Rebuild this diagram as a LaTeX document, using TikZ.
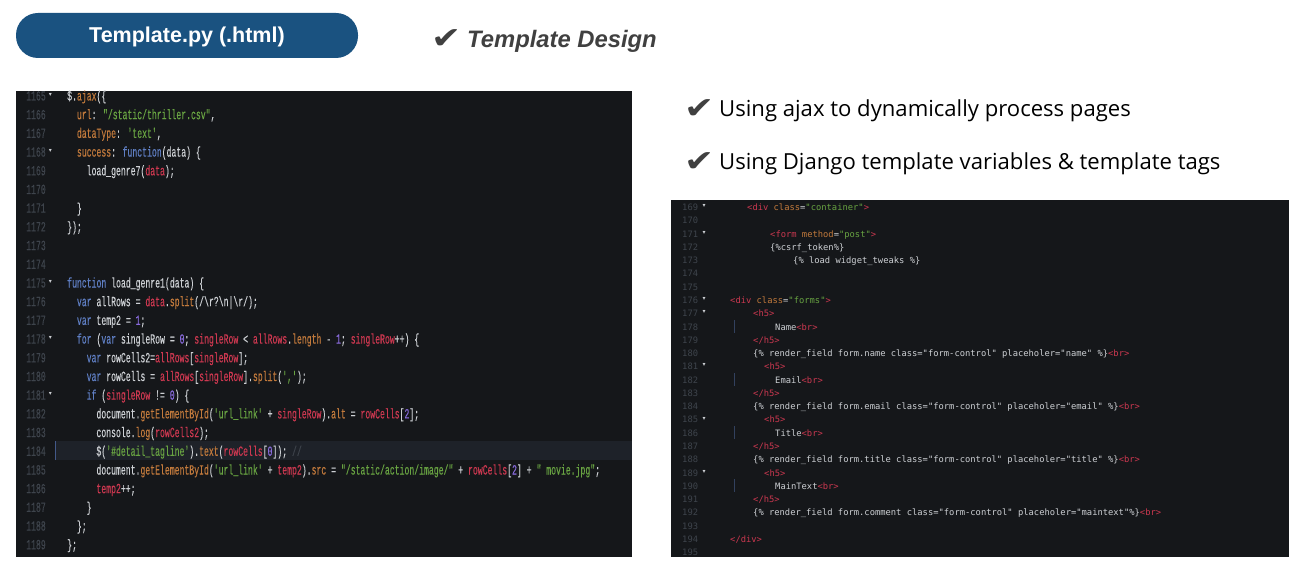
\documentclass[tikz,border=0pt]{standalone}
\usepackage{fontspec}
\setmainfont{Liberation Sans}
\newfontfamily\leftcode[FakeStretch=0.582,FakeBold=0.2,Ligatures=ResetAll]{Liberation Mono}
\newfontfamily\rightcode[Ligatures=ResetAll]{DejaVu Sans Mono}
\newfontfamily\symfont{DejaVu Sans}
\newfontfamily\bulletfont{Open Sans}
\definecolor{panelbg}{HTML}{15171A}
\definecolor{linebg}{HTML}{1E2229}
\definecolor{numgray}{HTML}{3E444C}
\definecolor{codetext}{HTML}{CDD0D4}
\definecolor{kwblue}{HTML}{5F7FC4}
\definecolor{propor}{HTML}{C27A3C}
\definecolor{strgreen}{HTML}{68A342}
\definecolor{varred}{HTML}{CC3850}
\definecolor{numpurple}{HTML}{8A6CDE}
\definecolor{pillblue}{HTML}{1A5280}
\definecolor{markgray}{HTML}{404040}
\newcommand{\kw}[1]{\textcolor{kwblue}{#1}}
\newcommand{\pr}[1]{\textcolor{propor}{#1}}
\newcommand{\st}[1]{\textcolor{strgreen}{#1}}
\newcommand{\vr}[1]{\textcolor{varred}{#1}}
\newcommand{\nm}[1]{\textcolor{numpurple}{#1}}
\tikzset{
  panel/.style={fill=panelbg,draw=none},
  lineno/.style={anchor=base west,inner sep=0pt,text=numgray},
  codeline/.style={anchor=base west,inner sep=0pt,text=codetext},
  fold/.style={anchor=center,inner sep=0pt,text=codetext,font=\symfont\fontsize{6}{6}\selectfont},
  tick/.style={anchor=center,inner sep=0pt,text=markgray,xscale=1.2,transform shape,font=\symfont\fontsize{30}{30}\selectfont},
  bullet/.style={anchor=west,inner sep=0pt,text=black,font=\bulletfont\fontsize{22.1}{24}\selectfont}
}
\begin{document}
\begin{tikzpicture}[x=1pt,y=-1pt]
  \useasboundingbox (0,0) rectangle (1303,569);
  \node[anchor=center,fill=pillblue,rounded corners=22pt,minimum width=342pt,minimum height=45pt,inner sep=0pt,text=white,font=\bfseries\fontsize{21.5}{24}\selectfont] at (187,35.5) (title) {\raisebox{-7.5pt}[0pt][0pt]{Template.py (.html)}};
  \node[tick] at (447,39) (designtick) {✔};
  \node[anchor=west,inner sep=0pt,text=markgray,font=\bfseries\itshape\fontsize{23.8}{28}\selectfont] at (467,41) (design) {Template Design};
  \node[tick] at (700,109) (ajaxtick) {✔};
  \node[bullet] at (719,111) (ajax) {Using ajax to dynamically process pages};
  \node[tick] at (700,162) (djangotick) {✔};
  \node[bullet] at (719,164) (django) {Using Django template variables \& template tags};
  \begin{scope}
    \clip (16,91) rectangle (632,557);
    \fill[panel] (16,91) rectangle (632,557);
    \fill[linebg] (55,441) rectangle (632,460);
    \draw[kwblue!70!black,line width=1pt] (55,441) -- (55,460);
    \foreach \n in {1165,...,1189}
      \node[lineno,font=\leftcode\fontsize{14}{16}\selectfont] at (26,{96+(\n-1165)*18.7+4.5}) (lnum\n) {\n};
    \foreach \n in {1165,1168,1175,1178,1181}
      \node[fold] at (50.5,{96+(\n-1165)*18.7-1}) (lfold\n) {▾};
    \foreach \n/\ind/\txt in {
      1165/0/{\$.\pr{ajax}(\{},
      1166/1/{\pr{url}: \st{"/static/thriller.csv"},},
      1167/1/{\pr{dataType}: \st{'text'},},
      1168/1/{\pr{success}: \kw{function}(data) \{},
      1169/2/{load\_genre7(\vr{data});},
      1171/1/{\}},
      1172/0/{\});},
      1175/0/{\kw{function} load\_genre1(data) \{},
      1176/1/{\kw{var} allRows = \vr{data}.\pr{split}(/\textbackslash r?\textbackslash n|\textbackslash r/);},
      1177/1/{\kw{var} temp2 = \nm{1};},
      1178/1/{\kw{for} (\kw{var} singleRow = \nm{0}; \vr{singleRow} < \vr{allRows}.\pr{length} - \nm{1}; \vr{singleRow}++) \{},
      1179/2/{\kw{var} rowCells2=\vr{allRows}[\vr{singleRow}];},
      1180/2/{\kw{var} rowCells = \vr{allRows}[\vr{singleRow}].\pr{split}(\st{','});},
      1181/2/{\kw{if} (\vr{singleRow} != \nm{0}) \{},
      1182/3/{document.\pr{getElementById}(\st{'url\_link'} + \vr{singleRow}).\pr{alt} = \vr{rowCells}[\nm{2}];},
      1183/3/{console.\pr{log}(\vr{rowCells2});},
      1184/3/{\$(\st{'\#detail\_tagline'}).\pr{text}(\vr{rowCells}[\nm{0}]); \textcolor{numgray}{//}},
      1185/3/{document.\pr{getElementById}(\st{'url\_link'} + \vr{temp2}).\pr{src} = \st{"/static/action/image/"} + \vr{rowCells}[\nm{2}] + \st{" movie.jpg"};},
      1186/3/{\vr{temp2}++;},
      1187/2/{\}},
      1188/1/{\};},
      1189/0/{\};}}
      \node[codeline,font=\leftcode\fontsize{14}{16}\selectfont] at ({67+\ind*9.75},{96+(\n-1165)*18.7+4.5}) (lcode\n) {\txt};
  \end{scope}
  \begin{scope}
    \clip (671,200) rectangle (1289,557);
    \fill[panel] (671,200) rectangle (1289,557);
    \foreach \n in {169,...,195}
      \node[lineno,font=\rightcode\fontsize{8.8}{11}\selectfont] at (682,{207+(\n-169)*13.28+3.5}) (rnum\n) {\n};
    \foreach \n in {169,171,176,177,181,185,189}
      \node[fold] at (704,{207+(\n-169)*13.28-1}) (rfold\n) {▾};
    \foreach \n in {178,182,186,190}
      \draw[kwblue!40!panelbg,line width=0.8pt] (734,{207+(\n-169)*13.28-6.5}) -- (734,{207+(\n-169)*13.28+6.5});
    \foreach \n/\xx/\txt in {
      169/747/{\vr{<div} \pr{class}=\st{"container"}\vr{>}},
      171/770/{\vr{<form} \pr{method}=\st{"post"}\vr{>}},
      172/770/{\{\%csrf\_token\%\}},
      173/793/{\{\% load widget\_tweaks \%\}},
      176/730/{\vr{<div} \pr{class}=\st{"forms"}\vr{>}},
      177/753/{\vr{<h5>}},
      178/775/{Name\vr{<br>}},
      179/753/{\vr{</h5>}},
      180/753/{\{\% render\_field form.name class="form-control" placeholer="name" \%\}\vr{<br>}},
      181/764/{\vr{<h5>}},
      182/775/{Email\vr{<br>}},
      183/753/{\vr{</h5>}},
      184/753/{\{\% render\_field form.email class="form-control" placeholer="email" \%\}\vr{<br>}},
      185/764/{\vr{<h5>}},
      186/775/{Title\vr{<br>}},
      187/753/{\vr{</h5>}},
      188/753/{\{\% render\_field form.title class="form-control" placeholer="title" \%\}\vr{<br>}},
      189/764/{\vr{<h5>}},
      190/775/{MainText\vr{<br>}},
      191/753/{\vr{</h5>}},
      192/753/{\{\% render\_field form.comment class="form-control" placeholer="maintext"\%\}\vr{<br>}},
      194/730/{\vr{</div>}}}
      \node[codeline,font=\rightcode\fontsize{8.8}{11}\selectfont] at (\xx,{207+(\n-169)*13.28+3.5}) (rcode\n) {\txt};
  \end{scope}
\end{tikzpicture}
\end{document}
